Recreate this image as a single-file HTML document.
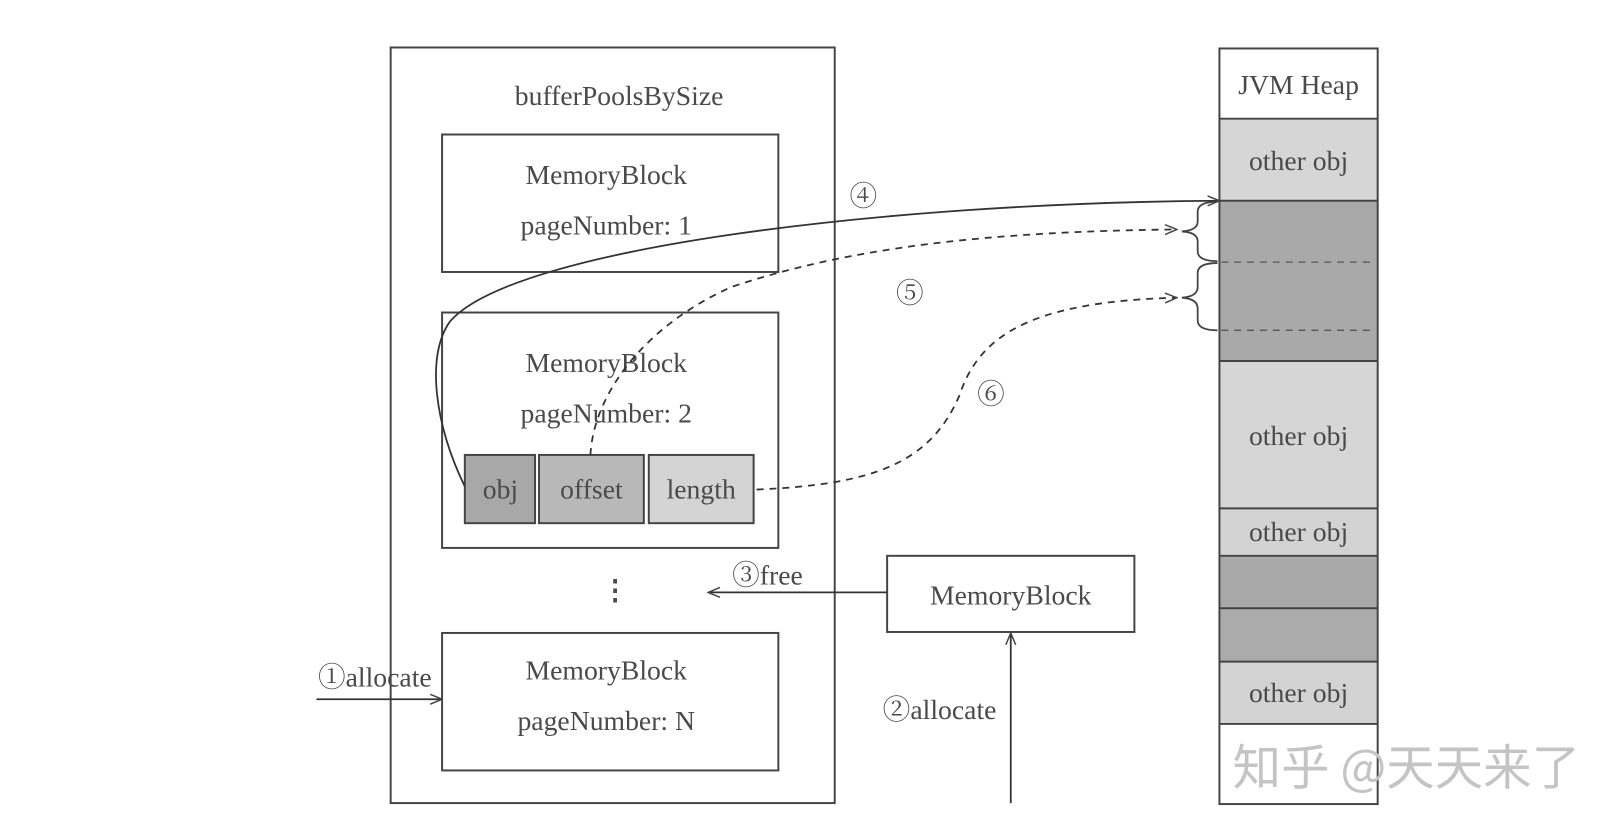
<!DOCTYPE html>
<html><head><meta charset="utf-8"><style>
html,body{margin:0;padding:0;background:#fff;}
svg{display:block}
text{font-family:"Liberation Serif","Noto Serif CJK SC",serif;fill:#4a4a4a;font-size:28px;}
</style></head><body>
<svg width="1622" height="832" viewBox="0 0 1622 832" xmlns="http://www.w3.org/2000/svg">
<defs>
<marker id="ar" markerWidth="14" markerHeight="12" refX="13" refY="6" orient="auto" markerUnits="userSpaceOnUse">
<path d="M1,1 L13,6 L1,11" fill="none" stroke="#444" stroke-width="1.5"/>
</marker>
</defs>
<g transform="scale(0.989)">
<g stroke="#444" stroke-width="2" fill="none">
<rect x="395" y="48" width="449" height="764"/>
<rect x="447" y="136" width="340" height="139"/>
<rect x="447" y="316" width="340" height="238"/>
<rect x="447" y="640" width="340" height="139"/>
<rect x="897" y="562" width="250" height="77"/>
</g>
<rect x="470" y="460" width="71" height="69" fill="#a8a8a8" stroke="#444" stroke-width="2"/>
<rect x="545" y="460" width="106" height="69" fill="#b8b8b8" stroke="#444" stroke-width="2"/>
<rect x="656" y="460" width="106" height="69" fill="#d4d4d4" stroke="#444" stroke-width="2"/>
<text x="626" y="106" text-anchor="middle">bufferPoolsBySize</text>
<text x="613" y="186" text-anchor="middle">MemoryBlock</text>
<text x="613" y="237" text-anchor="middle">pageNumber: 1</text>
<text x="613" y="376" text-anchor="middle">MemoryBlock</text>
<text x="613" y="427" text-anchor="middle">pageNumber: 2</text>
<text x="613" y="687" text-anchor="middle">MemoryBlock</text>
<text x="613" y="738" text-anchor="middle">pageNumber: N</text>
<text x="1022" y="611" text-anchor="middle">MemoryBlock</text>
<text x="506" y="504" text-anchor="middle">obj</text>
<text x="598" y="504" text-anchor="middle">offset</text>
<text x="709" y="504" text-anchor="middle">length</text>
<text x="622" y="606" text-anchor="middle" font-weight="bold">⋮</text>
<rect x="1233" y="120" width="160" height="83" fill="#d6d6d6"/>
<rect x="1233" y="203" width="160" height="162" fill="#a9a9a9"/>
<rect x="1233" y="365" width="160" height="149" fill="#d6d6d6"/>
<rect x="1233" y="514" width="160" height="48" fill="#d3d3d3"/>
<rect x="1233" y="562" width="160" height="53" fill="#a9a9a9"/>
<rect x="1233" y="615" width="160" height="54" fill="#ababab"/>
<rect x="1233" y="669" width="160" height="63" fill="#d3d3d3"/>
<g stroke="#444" stroke-width="2" fill="none">
<rect x="1233" y="49" width="160" height="764"/>
<path d="M1233 120H1393M1233 203H1393M1233 365H1393M1233 514H1393M1233 562H1393M1233 615H1393M1233 669H1393M1233 732H1393"/>
</g>
<path d="M1235 265H1390M1235 334H1390" stroke="#555" stroke-width="1.3" stroke-dasharray="7,6"/>
<text x="1313" y="95" text-anchor="middle">JVM Heap</text>
<text x="1313" y="172" text-anchor="middle">other obj</text>
<text x="1313" y="450" text-anchor="middle">other obj</text>
<text x="1313" y="547" text-anchor="middle">other obj</text>
<text x="1313" y="710" text-anchor="middle">other obj</text>
<text x="1422" y="793" text-anchor="middle" style="font-family:'Noto Sans CJK SC',sans-serif;font-size:49px;fill:#c4c4c4">知乎 @天天来了</text>
<g stroke="#444" stroke-width="1.8" fill="none">
<path d="M1231 204 Q1211 204 1211 214 L1211 224 Q1211 233 1195 234 Q1211 235 1211 244 L1211 254 Q1211 264 1231 264"/>
<path d="M1231 266 Q1211 266 1211 276 L1211 290 Q1211 300 1195 301 Q1211 302 1211 312 L1211 324 Q1211 334 1231 334"/>
</g>
<g stroke="#333" stroke-width="1.8" fill="none">
<path d="M470 492 C440 430 430 360 455 325 C520 250 900 205 1233 203" marker-end="url(#ar)"/>
<path d="M597 460 C600 400 650 330 740 290 C860 250 1000 234 1190 232" stroke-dasharray="7,6" marker-end="url(#ar)"/>
<path d="M765 495 C880 490 940 470 970 400 C990 340 1040 305 1190 301" stroke-dasharray="7,6" marker-end="url(#ar)"/>
<path d="M897 599 H716" marker-end="url(#ar)"/>
<path d="M1022 812 V640" marker-end="url(#ar)"/>
<path d="M320 707 H447" marker-end="url(#ar)"/>
</g>
<text x="873" y="208" text-anchor="middle">④</text>
<text x="920" y="306" text-anchor="middle">⑤</text>
<text x="1002" y="408" text-anchor="middle">⑥</text>
<text x="776" y="591" text-anchor="middle">③free</text>
<text x="950" y="727" text-anchor="middle">②allocate</text>
<text x="379" y="694" text-anchor="middle">①allocate</text>
</g>
</svg>
</body></html>
